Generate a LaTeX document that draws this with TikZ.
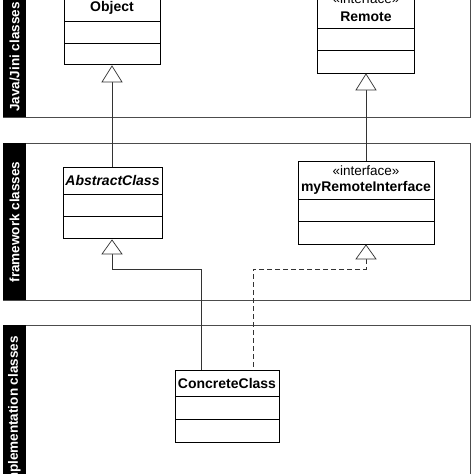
\documentclass[tikz,border=0pt]{standalone}
\usepackage{fontspec}
\setmainfont{Liberation Sans}
\begin{document}
\begin{tikzpicture}[x=1pt,y=-1pt,
  panel/.style={draw=black!70,line width=1pt},
  band/.style={fill=black},
  blab/.style={text=white,font=\bfseries\fontsize{13.5}{15}\selectfont,rotate=90,inner sep=0pt},
  box/.style={draw,line width=0.9pt,fill=white},
  nm/.style={font=\bfseries\fontsize{14}{16}\selectfont,inner sep=0pt},
  st/.style={font=\fontsize{13.5}{15}\selectfont,inner sep=0pt},
  gen/.style={draw=black!80,line width=0.7pt},
  tri/.style={draw=black!80,line width=0.7pt,fill=white}]
\useasboundingbox (0,0) rectangle (474,474);
\clip (0,0) rectangle (474,474);
% panels
\draw[panel] (3,-10) rectangle (470,117);
\fill[band] (3,-10) rectangle (26,117);
\node[blab] (l1) at (14.5,57) {Java/Jini classes};
\draw[panel] (3,143) rectangle (470,300);
\fill[band] (3,143) rectangle (26,300);
\node[blab] (l2) at (14.5,222) {framework classes};
\draw[panel] (3,325) rectangle (470,490);
\fill[band] (3,325) rectangle (26,490);
\node[blab,anchor=east] (l3) at (14.5,336) {Implementation classes};
% Object
\draw[box] (64,-20) rectangle (160,64);
\draw[line width=0.9pt] (64,21)--(160,21) (64,43)--(160,43);
\node[nm] (obj) at (112,8) {Object};
% Remote
\draw[box] (317,-20) rectangle (414,73);
\draw[line width=0.9pt] (317,28)--(414,28) (317,50)--(414,50);
\node[st] (rst) at (366,-1) {«interface»};
\node[nm] (rem) at (366,17) {Remote};
% AbstractClass
\draw[box] (63,167) rectangle (162,238);
\draw[line width=0.9pt] (63,194)--(162,194) (63,216)--(162,216);
\node[nm,font=\bfseries\itshape\fontsize{14}{16}\selectfont] (abs) at (112.5,180) {AbstractClass};
% myRemoteInterface
\draw[box] (298,161) rectangle (434,244);
\draw[line width=0.9pt] (298,199)--(434,199) (298,221)--(434,221);
\node[st] (mst) at (366,171) {«interface»};
\node[nm] (myr) at (366,188) {myRemoteInterface};
% ConcreteClass
\draw[box] (175,370) rectangle (279,442);
\draw[line width=0.9pt] (175,396)--(279,396) (175,419)--(279,419);
\node[nm] (cc) at (227,383) {ConcreteClass};
% connectors
\coordinate (t1) at (112,66); \coordinate (t2) at (366,74);
\coordinate (t3) at (112,240); \coordinate (t4) at (366,245);
\draw[gen] (112,82) -- (112,167);
\draw[tri] (t1) -- ++(-10,16) -- ++(20,0) -- cycle;
\draw[gen] (366,90) -- (366,161);
\draw[tri] (t2) -- ++(-10,16) -- ++(20,0) -- cycle;
\draw[gen] (112,254) |- (201,269) -- (201,370);
\draw[tri] (t3) -- ++(-10,14) -- ++(20,0) -- cycle;
\draw[gen,dash pattern=on 5pt off 3pt] (366,259) |- (253,269) -- (253,370);
\draw[tri] (t4) -- ++(-10,14) -- ++(20,0) -- cycle;
\end{tikzpicture}
\end{document}
